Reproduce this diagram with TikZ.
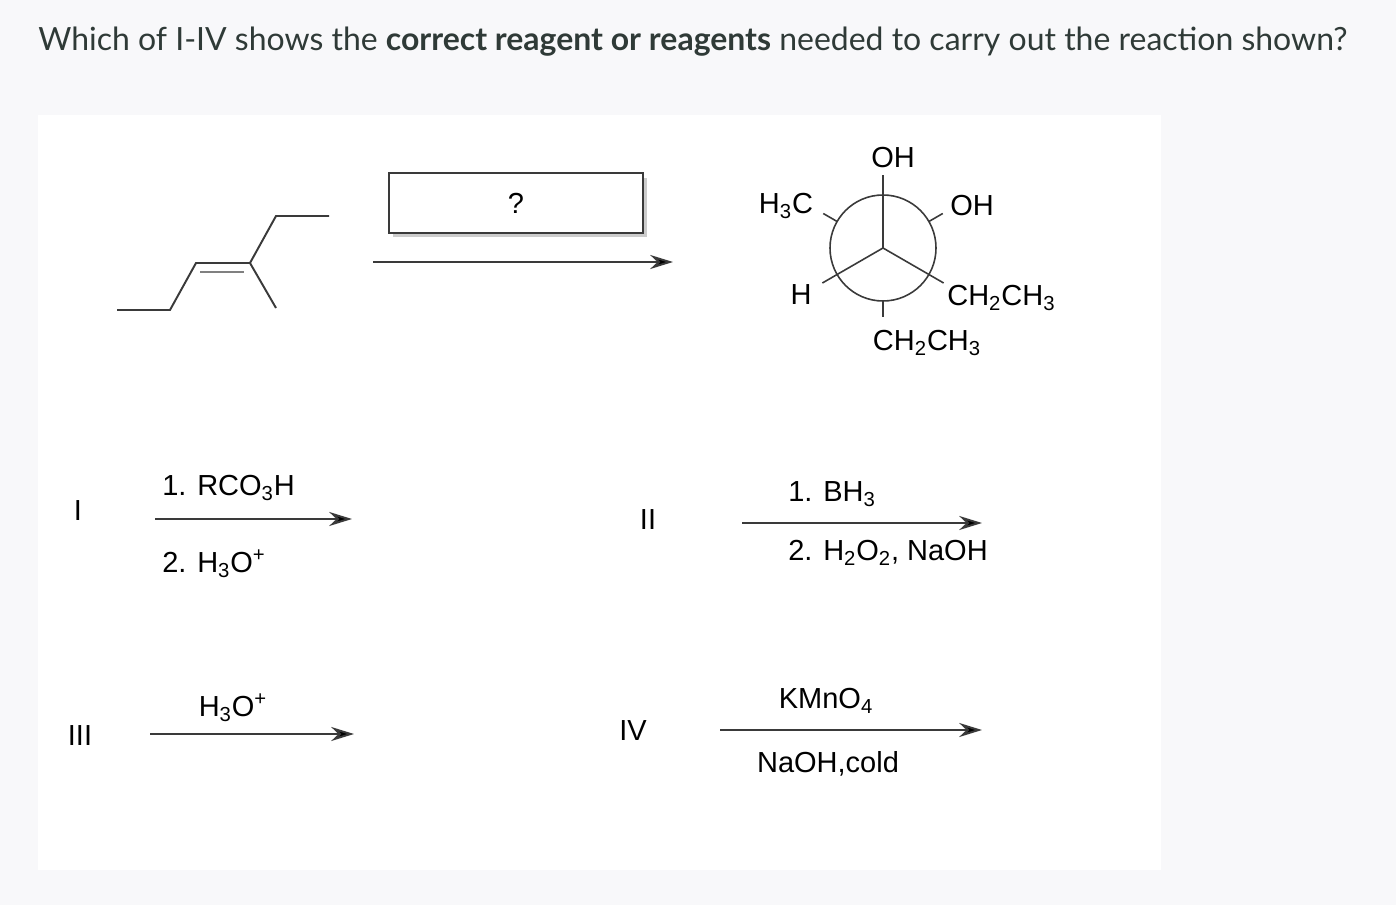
\documentclass[tikz,border=0pt]{standalone}
\usepackage{fontspec}
\setmainfont{Liberation Sans}
\newfontfamily\qfont{Lato}
\usetikzlibrary{arrows.meta,calc}
\definecolor{bgc}{HTML}{F8F8FA}
\definecolor{qtext}{HTML}{2F3A37}
\definecolor{ln}{HTML}{3A3A3A}
\newcommand{\sbs}[1]{\textsubscript{#1}}
\newcommand{\sps}[1]{\textsuperscript{#1}}
\begin{document}
\begin{tikzpicture}[x=0.02cm,y=-0.02cm,
  bond/.style={line width=1.1pt,draw=ln},
  rxn/.style={line width=1.1pt,draw=ln,-{Stealth[length=13pt,width=8pt,fill=black]}},
  lbl/.style={font=\fontsize{16.5}{18}\selectfont,text=black,inner sep=0pt},
  roman/.style={font=\fontsize{16.5}{18}\selectfont,inner sep=0pt}]
\fill[bgc] (0,0) rectangle (1396,905);
\useasboundingbox (0,0) rectangle (1396,905);
\fill[white] (38,115) rectangle (1161,870);
\node[anchor=west,inner sep=0pt,text=qtext,font=\qfont\fontsize{18.2}{20}\selectfont] (q) at (38,42)
 {Which of I-IV shows the \textbf{correct reagent or reagents} needed to carry out the reaction shown?};
% alkene
\draw[bond,line join=miter] (117,310) -- (170,310) -- (196,263) -- (250,263) -- (276,216) -- (329,216);
\draw[bond] (250,263) -- (276,308);
\draw[bond,draw=gray] (200,272) -- (244,272);
% box
\fill[gray!40] (393,178) rectangle (647,237);
\node[draw=ln,fill=white,line width=1.1pt,minimum width=254*0.02cm,minimum height=60*0.02cm,inner sep=0pt] (box) at (516,203) {};
\node[lbl] (qm) at (box) {?};
\coordinate (a0s) at (373,262); \coordinate (a0e) at (673,262);
\draw[rxn] (a0s) -- (a0e);
% Newman
\coordinate (c) at (883,248);
\draw[line width=0.9pt,draw=ln] (c) circle (53);
\draw[line width=0.9pt,draw=ln] (c) -- (883,175);
\draw[line width=0.9pt,draw=ln] (c) -- ++(150:70);
\draw[line width=0.9pt,draw=ln] (c) -- ++(30:70);
\draw[line width=0.9pt,draw=ln] ($(c)+(210:53)$) -- ++(210:16);
\draw[line width=0.9pt,draw=ln] ($(c)+(330:53)$) -- ++(330:16);
\draw[line width=0.9pt,draw=ln] ($(c)+(90:53)$) -- ++(90:16);
\node[lbl] (oh1) at (893,158) {OH};
\node[lbl] (ch3) at (786,206) {H\sbs{3}C};
\node[lbl] (oh2) at (972,206) {OH};
\node[lbl] (h) at (801,295) {H};
\node[lbl,anchor=west] (et1) at (947,298) {CH\sbs{2}CH\sbs{3}};
\node[lbl] (et2) at (927,343) {CH\sbs{2}CH\sbs{3}};
% options
\node[roman] (r1) at (78,511) {I};
\draw[rxn] (155,519) -- (352,519);
\node[lbl,anchor=west] (t1a) at (162,488) {1. RCO\sbs{3}H};
\node[lbl,anchor=west] (t1b) at (162,564) {2. H\sbs{3}O\sps{+}};
\node[roman] (r2) at (648,520) {II};
\draw[rxn] (742,523) -- (982,523);
\node[lbl,anchor=west] (t2a) at (788,494) {1. BH\sbs{3}};
\node[lbl,anchor=west] (t2b) at (788,553) {2. H\sbs{2}O\sbs{2}, NaOH};
\node[roman] (r3) at (80,736) {III};
\draw[rxn] (150,734) -- (354,734);
\node[lbl] (t3) at (233,708) {H\sbs{3}O\sps{+}};
\node[roman] (r4) at (633,731) {IV};
\draw[rxn] (720,730) -- (982,730);
\node[lbl] (t4a) at (826,701) {KMnO\sbs{4}};
\node[lbl] (t4b) at (828,764) {NaOH,cold};
\end{tikzpicture}
\end{document}
